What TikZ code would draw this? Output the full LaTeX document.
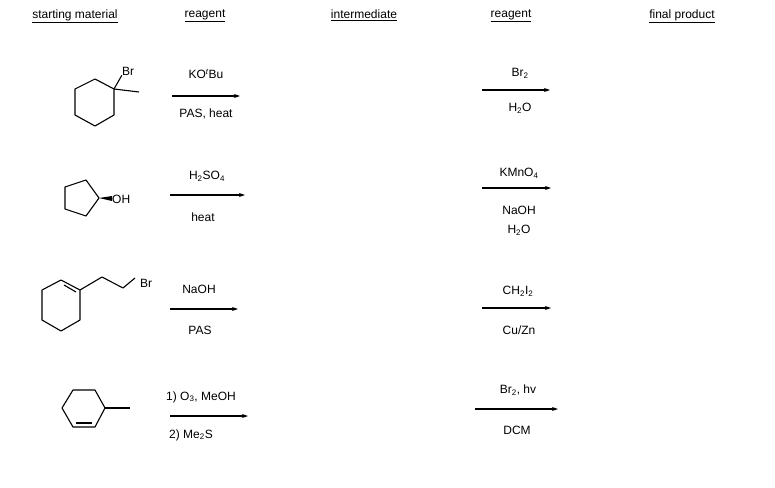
\documentclass[tikz,border=0pt]{standalone}
\usepackage{fontspec}
\setmainfont{Liberation Sans}
\usetikzlibrary{arrows.meta}
\begin{document}
\begin{tikzpicture}[x=1pt,y=-1pt,
  bond/.style={line width=1.1pt,line join=round},
  rx/.style={line width=1.1pt,-{Stealth[length=6pt,width=4pt]}},
  lbl/.style={inner sep=0pt,font=\fontsize{12}{14}\selectfont},
  hdr/.style={inner sep=1pt,font=\fontsize{12}{14}\selectfont}]
\useasboundingbox (0,0) rectangle (775,487);
% headers
\node[hdr] (h1) at (75,16) {\underline{starting material}};
\node[hdr] (h2) at (205,16) {\underline{reagent}};
\node[hdr] (h3) at (364,15) {\underline{intermediate}};
\node[hdr] (h4) at (511,16) {\underline{reagent}};
\node[hdr] (h5) at (682,16) {\underline{final product}};
% molecule 1
\draw[bond] (95,79)--(114,89)--(114,115)--(95,126)--(75,115)--(75,89)--cycle;
\draw[bond] (114,89)--(139,92);
\node[lbl] (br1) at (128,71) {Br};
\draw[bond] (114,89)--(br1.south west);
% molecule 2
\draw[bond] (99,198)--(86,180)--(65,187)--(65,209)--(86,216)--cycle;
\node[lbl,anchor=west] (oh) at (112,199) {OH};
\fill (99,198)--(112,196)--(112,201)--cycle;
% molecule 3
\draw[bond] (61,280)--(80,290)--(80,320)--(61,331)--(42,320)--(42,290)--cycle;
\draw[bond] (64,285)--(76,292);
\draw[bond] (80,290)--(102,277)--(123,288)--(135,278);
\node[lbl] (br3) at (146,283) {Br};
% molecule 4
\draw[bond] (73,390)--(95,390)--(105,408)--(95,427)--(73,427)--(62,408)--cycle;
\draw[bond] (76,423)--(92,423);
\draw[bond] (105,408)--(130,408);
% row 1
\coordinate (a1s) at (172,96); \coordinate (a1e) at (240,96);
\draw[rx] (a1s)--(a1e);
\node[lbl] (r1a) at (206,74) {KO$^{\mathit{t}}$Bu};
\node[lbl] (r1b) at (206,114) {PAS, heat};
\coordinate (b1s) at (482,90); \coordinate (b1e) at (550,90);
\draw[rx] (b1s)--(b1e);
\node[lbl] (s1a) at (520,73) {Br\textsubscript{2}};
\node[lbl] (s1b) at (520,108) {H\textsubscript{2}O};
% row 2
\coordinate (a2s) at (170,195); \coordinate (a2e) at (245,195);
\draw[rx] (a2s)--(a2e);
\node[lbl] (r2a) at (207,176) {H\textsubscript{2}SO\textsubscript{4}};
\node[lbl] (r2b) at (203,217) {heat};
\coordinate (b2s) at (482,188); \coordinate (b2e) at (551,188);
\draw[rx] (b2s)--(b2e);
\node[lbl] (s2a) at (519,173) {KMnO\textsubscript{4}};
\node[lbl] (s2b) at (519,210) {NaOH};
\node[lbl] (s2c) at (519,230) {H\textsubscript{2}O};
% row 3
\coordinate (a3s) at (170,309); \coordinate (a3e) at (238,309);
\draw[rx] (a3s)--(a3e);
\node[lbl] (r3a) at (199,289) {NaOH};
\node[lbl] (r3b) at (200,330) {PAS};
\coordinate (b3s) at (482,308); \coordinate (b3e) at (551,308);
\draw[rx] (b3s)--(b3e);
\node[lbl] (s3a) at (518,291) {CH\textsubscript{2}I\textsubscript{2}};
\node[lbl] (s3b) at (519,330) {Cu/Zn};
% row 4
\coordinate (a4s) at (170,416); \coordinate (a4e) at (248,416);
\draw[rx] (a4s)--(a4e);
\node[lbl] (r4a) at (201,397) {1) O\textsubscript{3}, MeOH};
\node[lbl] (r4b) at (191,435) {2) Me\textsubscript{2}S};
\coordinate (b4s) at (475,409); \coordinate (b4e) at (558,409);
\draw[rx] (b4s)--(b4e);
\node[lbl] (s4a) at (518,390) {Br\textsubscript{2}, hv};
\node[lbl] (s4b) at (517,430) {DCM};
\end{tikzpicture}
\end{document}
